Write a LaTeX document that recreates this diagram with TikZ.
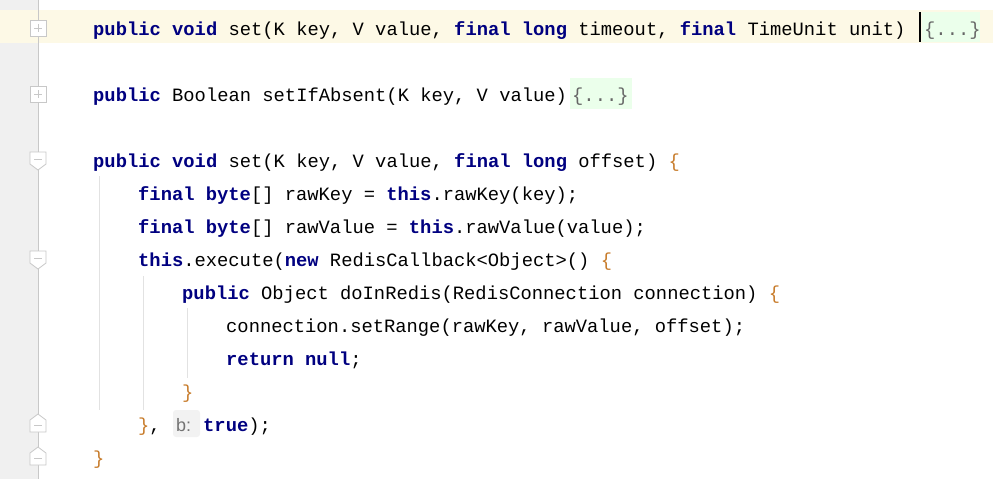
\documentclass[tikz,border=0pt]{standalone}
\usepackage{fontspec}
\setmonofont{Liberation Mono}
\setsansfont{Liberation Sans}
\definecolor{kwc}{HTML}{000080}
\definecolor{brc}{HTML}{C77B2A}
\definecolor{gut}{HTML}{F0F0F0}
\definecolor{hl}{HTML}{FDF9E6}
\definecolor{fold}{HTML}{C8C8C8}
\definecolor{guide}{HTML}{E2E2E2}
\newcommand{\kw}[1]{\textcolor{kwc}{\bfseries #1}}
\newcommand{\br}[1]{\textcolor{brc}{#1}}
\begin{document}
\begin{tikzpicture}[x=1pt,y=-1pt,
  code/.style={anchor=base west,inner sep=0pt,font=\ttfamily\fontsize{18.8}{20}\selectfont},
  foldbox/.style={draw=fold,fill=white,line width=0.8pt}]
\useasboundingbox (0,0) rectangle (993,479);
\fill[gut] (0,0) rectangle (38,479);
\fill[hl] (0,10) rectangle (993,43);
\draw[fold,line width=0.8pt] (38,0) -- (38,479);
% indent guides
\draw[guide,line width=0.8pt] (99,176) -- (99,410);
\draw[guide,line width=0.8pt] (143,276) -- (143,410);
\draw[guide,line width=0.8pt] (187,308) -- (187,378);
% fold markers
\foreach \y in {28,94}{
  \draw[foldbox] (30,\y-8) rectangle (46,\y+8);
  \draw[fold] (34,\y) -- (42,\y) (38,\y-4) -- (38,\y+4);}
\foreach \y in {160,259}{
  \draw[foldbox] (30,\y-8) -- (46,\y-8) -- (46,\y+4) -- (38,\y+10) -- (30,\y+4) -- cycle;
  \draw[fold] (34,\y-1) -- (42,\y-1);}
\foreach \y in {424,457}{
  \draw[foldbox] (30,\y+8) -- (46,\y+8) -- (46,\y-4) -- (38,\y-10) -- (30,\y-4) -- cycle;
  \draw[fold] (34,\y+1) -- (42,\y+1);}
% code
\node[code] (l1) at (93,35) {\kw{public} \kw{void} set(K key, V value, \kw{final} \kw{long} timeout, \kw{final} TimeUnit unit)};
\draw[line width=1.5pt] (920,12) -- (920,42);
\fill[green!8!white] (922,12) rectangle (980,42);
\node[code] (f1) at (924,35) {\textcolor{gray!80!black}{\{...\}}};
\node[code] (l2) at (93,101) {\kw{public} Boolean setIfAbsent(K key, V value)};
\fill[green!8!white] (570,78) rectangle (632,109);
\node[code] (f2) at (572,101) {\textcolor{gray!80!black}{\{...\}}};
\node[code] (l3) at (93,167) {\kw{public} \kw{void} set(K key, V value, \kw{final} \kw{long} offset) \br{\{}};
\node[code] (l4) at (138,200) {\kw{final} \kw{byte}[] rawKey = \kw{this}.rawKey(key);};
\node[code] (l5) at (138,233) {\kw{final} \kw{byte}[] rawValue = \kw{this}.rawValue(value);};
\node[code] (l6) at (138,266) {\kw{this}.execute(\kw{new} RedisCallback<Object>() \br{\{}};
\node[code] (l7) at (182,299) {\kw{public} Object doInRedis(RedisConnection connection) \br{\{}};
\node[code] (l8) at (226,332) {connection.setRange(rawKey, rawValue, offset);};
\node[code] (l9) at (226,365) {\kw{return} \kw{null};};
\node[code] (l10) at (182,398) {\br{\}}};
\node[code] (l11) at (138,431) {\br{\}},};
\fill[gray!10,rounded corners=3pt] (173,410) rectangle (200,437);
\node[anchor=base west,inner sep=0pt,font=\sffamily\fontsize{18}{20}\selectfont,text=gray!90!black] (hint) at (176,431) {b:};
\node[code] (l11b) at (203,431) {\kw{true});};
\node[code] (l12) at (93,464) {\br{\}}};
\end{tikzpicture}
\end{document}
